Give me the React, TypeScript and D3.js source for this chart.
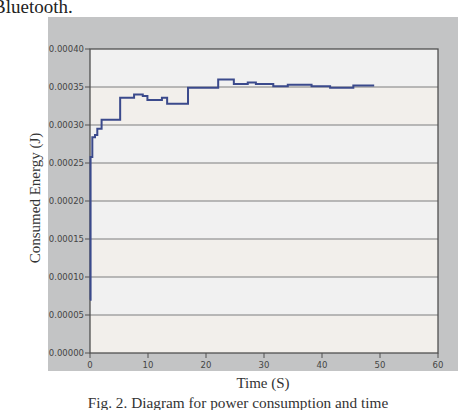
import React from "react";
import * as d3 from "d3";

const timeValues = [0, 0.1, 0.4, 0.86, 1.26, 2.0, 5.2, 7.6, 9.1, 9.9, 12.4, 13.3, 16.9, 22.1, 24.8, 27.2, 28.6, 31.6, 34.1, 38.2, 41.4, 45.4, 49.0];
const energyValues = [0.00007, 0.000258, 0.000284, 0.000287, 0.000295, 0.000307, 0.000336, 0.00034, 0.000338, 0.000333, 0.000336, 0.000328, 0.000349, 0.00036, 0.000354, 0.000356, 0.000354, 0.000351, 0.000353, 0.000351, 0.000349, 0.000352, 0.000352];
const yTicks = [0, 0.00005, 0.0001, 0.00015, 0.0002, 0.00025, 0.0003, 0.00035, 0.0004];
const xTicks = [0, 10, 20, 30, 40, 50, 60];

const W = 474, H = 410;
const plot = { left: 90, right: 438, top: 49, bottom: 353 };

export default function App() {
  const x = d3.scaleLinear().domain([0, 60]).range([plot.left, plot.right]);
  const y = d3.scaleLinear().domain([0, 0.0004]).range([plot.bottom, plot.top]);
  const data = timeValues.map((t, i) => [t, energyValues[i]] as [number, number]);
  const line = d3.line<[number, number]>().x(d => x(d[0])).y(d => y(d[1])).curve(d3.curveStepAfter);
  const bands = yTicks.slice(0, -1).map((v, i) => ({ y0: y(yTicks[i + 1]), y1: y(v), i }));
  return (
    <svg width={W} height={H} style={{ position: "absolute", left: 0, top: 0, background: "#fff" }}>
      <text x={-7} y={13} fontFamily="Liberation Serif, serif" fontSize={19} fill="#222">Bluetooth.</text>
      <rect x={48} y={17} width={410} height={354} fill="#c3c4c5" />
      {bands.map(b => (
        <rect key={b.i} x={plot.left} y={b.y0} width={plot.right - plot.left} height={b.y1 - b.y0}
          fill={b.i % 2 === 0 ? "#f2efeb" : "#f1f1f1"} />
      ))}
      {yTicks.slice(1, -1).map(v => (
        <line key={v} x1={plot.left} x2={plot.right} y1={y(v)} y2={y(v)} stroke="#a3a3a3" strokeWidth={1.6} />
      ))}
      <rect x={plot.left} y={plot.top} width={plot.right - plot.left} height={plot.bottom - plot.top}
        fill="none" stroke="#505050" strokeWidth={1.3} />
      {yTicks.map(v => (
        <g key={v}>
          <line x1={plot.left - 5} x2={plot.left} y1={y(v)} y2={y(v)} stroke="#505050" strokeWidth={1} />
          <text x={plot.left - 6} y={y(v)} dy="0.35em" textAnchor="end" fontFamily="DejaVu Sans, sans-serif"
            fontSize={8.5} fill="#444">{v.toFixed(5)}</text>
        </g>
      ))}
      {xTicks.map(v => (
        <g key={v}>
          <line x1={x(v)} x2={x(v)} y1={plot.bottom} y2={plot.bottom + 5} stroke="#505050" strokeWidth={1} />
          <text x={x(v)} y={plot.bottom + 15} textAnchor="middle" fontFamily="DejaVu Sans, sans-serif"
            fontSize={8.5} fill="#444">{v}</text>
        </g>
      ))}
      <path d={line(data) || ""} fill="none" stroke="#3b4a8c" strokeWidth={2} />
      <text transform={`translate(40,198) rotate(-90)`} textAnchor="middle" fontFamily="Liberation Serif, serif"
        fontSize={15} fill="#333">Consumed Energy (J)</text>
      <text x={263} y={388} textAnchor="middle" fontFamily="Liberation Serif, serif" fontSize={15} fill="#333">Time (S)</text>
      <text x={238} y={408} textAnchor="middle" fontFamily="Liberation Serif, serif" fontSize={15.3} fill="#333">Fig. 2. Diagram for power consumption and time</text>
    </svg>
  );
}
